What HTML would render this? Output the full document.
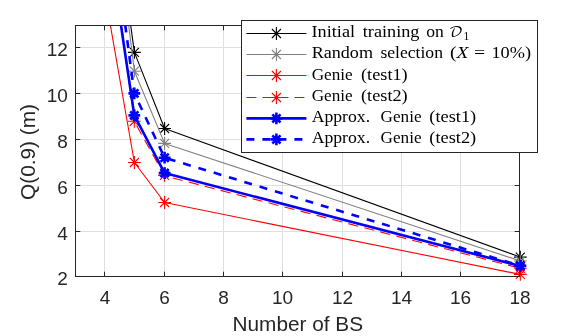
<!DOCTYPE html>
<html><head><meta charset="utf-8"><title>Q(0.9) vs Number of BS</title>
<style>html,body{margin:0;padding:0;background:#fff}svg{display:block}.t{font-family:"Liberation Sans",sans-serif;fill:#262626}.s{font-family:"Liberation Serif","DejaVu Serif",serif;fill:#000}.m{font-family:"DejaVu Math TeX Gyre","DejaVu Serif","Liberation Serif",serif;fill:#000}</style></head><body>
<svg width="575" height="336" viewBox="0 0 575 336">
<rect x="0" y="0" width="575" height="336" fill="#ffffff"/>
<defs>
<clipPath id="c"><rect x="75.5" y="25.5" width="444" height="251"/></clipPath>
<g id="mk"><path d="M-6.4 0H6.4M0 -6.4V6.4M-4.5 -4.5L4.5 4.5M-4.5 4.5L4.5 -4.5" fill="none"/></g>
<g id="mk2"><path d="M-5.9 0H5.9M0 -5.9V5.9M-4.1 -4.1L4.1 4.1M-4.1 4.1L4.1 -4.1" fill="none"/></g>
</defs>
<path d="M104.5 26V276M164.5 26V276M223.5 26V276M282.5 26V276M342.5 26V276M401.5 26V276M460.5 26V276M76 231.5H519M76 185.5H519M76 139.5H519M76 93.5H519M76 47.5H519" stroke="#dfdfdf" stroke-width="1" fill="none"/>
<g stroke="#000000" stroke-width="1.1" fill="none" stroke-linejoin="round">
<path clip-path="url(#c)" d="M121.69 -40.00L134.40 52.40L164.60 128.50L520.30 257.10"/>
<use href="#mk" x="134.4" y="52.4"/>
<use href="#mk" x="164.6" y="128.5"/>
<use href="#mk" x="520.3" y="257.1"/>
</g>
<g stroke="#808080" stroke-width="1.1" fill="none" stroke-linejoin="round">
<path clip-path="url(#c)" d="M120.53 -40.00L134.40 71.20L164.60 143.40L520.30 261.00"/>
<use href="#mk" x="134.4" y="71.2"/>
<use href="#mk" x="164.6" y="143.4"/>
<use href="#mk" x="520.3" y="261.0"/>
</g>
<g stroke="#ff0000" stroke-width="1.1" fill="none" stroke-linejoin="round">
<path clip-path="url(#c)" d="M98.93 -40.00L134.40 162.50L164.60 202.50L520.30 274.40"/>
<use href="#mk" x="134.4" y="162.5"/>
<use href="#mk" x="164.6" y="202.5"/>
<use href="#mk" x="520.3" y="274.4"/>
</g>
<g stroke="#ff0000" stroke-width="1.1" fill="none" stroke-linejoin="round">
<path clip-path="url(#c)" d="M112.92 -40.00L134.30 121.30L164.50 175.80L520.30 268.30" stroke-dasharray="10.2 6.3" stroke-dashoffset="14.01"/>
<use href="#mk" x="134.3" y="121.3"/>
<use href="#mk" x="164.5" y="175.4"/>
<use href="#mk" x="520.3" y="268.3"/>
</g>
<g stroke="#0000ff" stroke-width="2.6" fill="none" stroke-linejoin="round">
<path clip-path="url(#c)" d="M111.31 -40.00L134.30 115.40L164.60 173.10L520.30 266.00"/>
<use href="#mk2" x="134.3" y="115.4"/>
<use href="#mk2" x="164.6" y="173.1"/>
<use href="#mk2" x="520.3" y="266.0"/>
</g>
<g stroke="#0000ff" stroke-width="2.6" fill="none" stroke-linejoin="round">
<path clip-path="url(#c)" d="M116.62 -40.00L134.30 93.40L164.60 157.70L520.30 265.80" stroke-dasharray="8 8" stroke-dashoffset="15.05"/>
<use href="#mk2" x="134.3" y="93.4"/>
<use href="#mk2" x="164.6" y="157.7"/>
<use href="#mk2" x="520.3" y="265.8"/>
</g>
<g stroke="#262626" stroke-width="1" fill="none">
<rect x="75.5" y="25.5" width="444" height="251"/>
<path d="M104.5 276V271.7M104.5 26V30.3M164.5 276V271.7M164.5 26V30.3M223.5 276V271.7M223.5 26V30.3M282.5 276V271.7M282.5 26V30.3M342.5 276V271.7M342.5 26V30.3M401.5 276V271.7M401.5 26V30.3M460.5 276V271.7M460.5 26V30.3M76 231.5H80.3M519 231.5H514.7M76 185.5H80.3M519 185.5H514.7M76 139.5H80.3M519 139.5H514.7M76 93.5H80.3M519 93.5H514.7M76 47.5H80.3M519 47.5H514.7"/>
</g>
<g class="t" font-size="19" text-anchor="middle">
<text x="105" y="303.9">4</text>
<text x="164.5" y="303.9">6</text>
<text x="223.5" y="303.9">8</text>
<text x="282.5" y="303.9">10</text>
<text x="342.5" y="303.9">12</text>
<text x="401.5" y="303.9">14</text>
<text x="460.5" y="303.9">16</text>
<text x="520" y="303.9">18</text>
</g>
<g class="t" font-size="19" text-anchor="end">
<text x="67.8" y="284.7">2</text>
<text x="67.8" y="239.7">4</text>
<text x="67.8" y="193.7">6</text>
<text x="67.8" y="147.7">8</text>
<text x="67.8" y="101.7">10</text>
<text x="67.8" y="55.7">12</text>
</g>
<text class="t" font-size="20.8" text-anchor="middle" x="297.8" y="331.3">Number of BS</text>
<text class="t" font-size="20.8" text-anchor="middle" transform="translate(35.3 152) rotate(-90)">Q(0.9) (m)</text>
<rect x="241.5" y="20.5" width="296" height="132" fill="#ffffff" stroke="#262626" stroke-width="1"/>
<path d="M246.4 33.5H306.4" stroke="#000000" stroke-width="1.1" fill="none"/>
<use href="#mk" x="276.4" y="33.5" stroke="#000000" stroke-width="1.1"/>
<path d="M246.4 54.5H306.4" stroke="#808080" stroke-width="1.1" fill="none"/>
<use href="#mk" x="276.4" y="54.5" stroke="#808080" stroke-width="1.1"/>
<path d="M246.4 75.5H306.4" stroke="#ff0000" stroke-width="1.1" fill="none"/>
<use href="#mk" x="276.4" y="75.5" stroke="#ff0000" stroke-width="1.1"/>
<path d="M246.4 97.5H306.4" stroke="#ff0000" stroke-width="1.1" stroke-dasharray="10 6" fill="none"/>
<use href="#mk" x="276.4" y="97.5" stroke="#ff0000" stroke-width="1.1"/>
<path d="M246.4 118.4H306.4" stroke="#0000ff" stroke-width="2.6" fill="none"/>
<use href="#mk2" x="276.4" y="118.4" stroke="#0000ff" stroke-width="2.6"/>
<path d="M246.4 139.4H306.4" stroke="#0000ff" stroke-width="2.6" stroke-dasharray="8 8" fill="none"/>
<use href="#mk2" x="276.4" y="139.4" stroke="#0000ff" stroke-width="2.6"/>
<text class="s" font-size="16.4" x="311.5" y="36.8" textLength="43.6" lengthAdjust="spacingAndGlyphs">Initial</text>
<text class="s" font-size="16.4" x="362.8" y="36.8" textLength="56.6" lengthAdjust="spacingAndGlyphs">training</text>
<text class="s" font-size="16.4" x="426.3" y="36.8" textLength="17.6" lengthAdjust="spacingAndGlyphs">on</text>
<text class="m" font-size="15.4" x="448.7" y="37.0" textLength="14.3" lengthAdjust="spacingAndGlyphs">&#x1D49F;</text>
<text class="s" font-size="11.6" x="463.4" y="39.5">1</text>
<text class="s" font-size="16.4" x="311.7" y="58.1" textLength="61.3" lengthAdjust="spacingAndGlyphs">Random</text>
<text class="s" font-size="16.4" x="380.4" y="58.1" textLength="62.6" lengthAdjust="spacingAndGlyphs">selection</text>
<text class="s" font-size="16.4" x="450.1" y="58.1" textLength="18.4" lengthAdjust="spacingAndGlyphs">(<tspan font-style="italic">X</tspan></text>
<text class="s" font-size="16.4" x="474.0" y="58.1" textLength="11.2" lengthAdjust="spacingAndGlyphs">=</text>
<text class="s" font-size="16.4" x="491.4" y="58.1" textLength="39.6" lengthAdjust="spacingAndGlyphs">10%)</text>
<text class="s" font-size="16.4" x="311.7" y="79.5" textLength="41" lengthAdjust="spacingAndGlyphs">Genie</text>
<text class="s" font-size="16.4" x="361" y="79.5" textLength="46.7" lengthAdjust="spacingAndGlyphs">(test1)</text>
<text class="s" font-size="16.4" x="311.7" y="100.9" textLength="41" lengthAdjust="spacingAndGlyphs">Genie</text>
<text class="s" font-size="16.4" x="361" y="100.9" textLength="46.7" lengthAdjust="spacingAndGlyphs">(test2)</text>
<text class="s" font-size="16.4" x="311.7" y="121.7" textLength="58.4" lengthAdjust="spacingAndGlyphs">Approx.</text>
<text class="s" font-size="16.4" x="380.6" y="121.7" textLength="41" lengthAdjust="spacingAndGlyphs">Genie</text>
<text class="s" font-size="16.4" x="429.3" y="121.7" textLength="46.9" lengthAdjust="spacingAndGlyphs">(test1)</text>
<text class="s" font-size="16.4" x="311.7" y="143.3" textLength="58.4" lengthAdjust="spacingAndGlyphs">Approx.</text>
<text class="s" font-size="16.4" x="380.6" y="143.3" textLength="41" lengthAdjust="spacingAndGlyphs">Genie</text>
<text class="s" font-size="16.4" x="429.3" y="143.3" textLength="46.9" lengthAdjust="spacingAndGlyphs">(test2)</text>
</svg></body></html>
